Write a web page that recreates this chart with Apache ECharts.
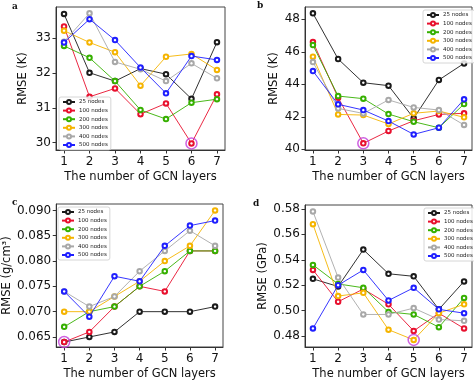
<!DOCTYPE html>
<html>
<head>
<meta charset="utf-8">
<script src="https://cdn.jsdelivr.net/npm/echarts@6/dist/echarts.min.js"></script>
<style>html,body{margin:0;padding:0;background:#fff}#c{width:474px;height:381px}</style>
</head>
<body>
<div id="c"></div>
<script>
// ---- data ----
const layers = [1, 2, 3, 4, 5, 6, 7];
const nodeNames = ['25 nodes', '100 nodes', '200 nodes', '300 nodes', '400 nodes', '500 nodes'];

// panel a: RMSE (K)
const a25  = [33.70, 32.01, 31.77, 32.13, 31.97, 31.26, 32.89];
const a100 = [33.34, 31.32, 31.56, 30.82, 31.13, 29.98, 31.39];
const a200 = [32.78, 32.44, 31.77, 30.94, 30.68, 31.15, 31.25];
const a300 = [33.22, 32.88, 32.60, 31.64, 32.47, 32.55, 32.09];
const a400 = [32.90, 33.72, 32.32, 32.11, 31.77, 32.28, 31.85];
const a500 = [32.88, 33.55, 32.95, 32.16, 31.42, 32.49, 32.38];
const aBest = [6, 29.98];
const ticksA = [30, 31, 32, 33];

// panel b: RMSE (K)
const b25  = [48.37, 45.56, 44.10, 43.92, 41.91, 44.27, 45.29];
const b100 = [46.61, 43.18, 40.37, 41.13, 41.76, 42.15, 42.22];
const b200 = [46.42, 43.28, 43.12, 42.17, 41.70, 41.33, 42.79];
const b300 = [45.70, 42.15, 42.11, 41.56, 42.22, 42.36, 41.97];
const b400 = [45.37, 42.52, 42.21, 43.04, 42.58, 42.42, 41.50];
const b500 = [44.82, 42.77, 42.42, 41.74, 40.92, 41.33, 43.08];
const bBest = [3, 40.37];
const ticksB = [40, 42, 44, 46, 48];

// panel c: RMSE (g/cm3)
const c25  = [0.064, 0.065, 0.066, 0.070, 0.070, 0.070, 0.071];
const c100 = [0.064, 0.066, 0.071, 0.075, 0.074, 0.082, 0.082];
const c200 = [0.067, 0.070, 0.071, 0.075, 0.078, 0.082, 0.082];
const c300 = [0.070, 0.070, 0.073, 0.076, 0.080, 0.083, 0.090];
const c400 = [0.074, 0.071, 0.073, 0.078, 0.082, 0.086, 0.083];
const c500 = [0.074, 0.069, 0.077, 0.076, 0.083, 0.087, 0.088];
const cBest = [1, 0.064];
const ticksC = [0.065, 0.070, 0.075, 0.080, 0.085, 0.090];

// panel d: RMSE (GPa)
const d25  = [0.525, 0.519, 0.548, 0.529, 0.527, 0.501, 0.523];
const d100 = [0.532, 0.507, 0.517, 0.505, 0.484, 0.498, 0.486];
const d200 = [0.536, 0.521, 0.518, 0.499, 0.497, 0.487, 0.510];
const d300 = [0.568, 0.5115, 0.514, 0.485, 0.477, 0.498, 0.505];
const d400 = [0.578, 0.526, 0.497, 0.497, 0.502, 0.493, 0.492];
const d500 = [0.486, 0.520, 0.532, 0.508, 0.518, 0.501, 0.498];
const dBest = [5, 0.477];
const ticksD = [0.48, 0.50, 0.52, 0.54, 0.56, 0.58];

// ---- styling / layout ----
const colors = ['#1a1a1a', '#e8102e', '#36b000', '#f5b400', '#a8a8a8', '#1f1fff'];
const hiColor = '#c23ad8';
const font = 'DejaVu Sans';

const panels = [
  {letter:'a', sets:[a25,a100,a200,a300,a400,a500], best:aBest, ticks:ticksA, yName:'RMSE (K)',
   min:29.79, max:33.90, dec:0, grid:{left:56, top:7, width:169, height:143}, nameGap:27,
   legend:{left:59, top:97}, letterPos:{left:12, top:2}},
  {letter:'b', sets:[b25,b100,b200,b300,b400,b500], best:bBest, ticks:ticksB, yName:'RMSE (K)',
   min:39.96, max:48.76, dec:0, grid:{left:305, top:7, width:167, height:143}, nameGap:25,
   legend:{left:423, top:10}, letterPos:{left:257, top:1}},
  {letter:'c', sets:[c25,c100,c200,c300,c400,c500], best:cBest, ticks:ticksC, yName:'RMSE (g/cm³)',
   min:0.06302, max:0.09127, dec:3, grid:{left:56, top:204, width:167, height:143}, nameGap:41,
   legend:{left:58, top:207}, letterPos:{left:12, top:198}},
  {letter:'d', sets:[d25,d100,d200,d300,d400,d500], best:dBest, ticks:ticksD, yName:'RMSE (GPa)',
   min:0.4714, max:0.5831, dec:2, grid:{left:305, top:205, width:167, height:143}, nameGap:35,
   legend:{left:424, top:208}, letterPos:{left:253, top:199}}
];

const grid = [], xAxis = [], yAxis = [], series = [], legend = [], title = [];
panels.forEach((p, k) => {
  grid.push(Object.assign({show:true, borderColor:'#444', borderWidth:1, backgroundColor:'#fff'}, p.grid));
  xAxis.push({
    type:'value', gridIndex:k, min:0.685, max:7.315,
    name:'The number of GCN layers', nameLocation:'middle', nameGap:21,
    nameTextStyle:{fontFamily:font, fontSize:11.5, color:'#111'},
    axisLine:{show:true, onZero:false, lineStyle:{color:'#333', width:1}},
    axisTick:{show:true, length:3.5, customValues:layers, lineStyle:{color:'#333'}},
    axisLabel:{customValues:layers, margin:6, fontFamily:font, fontSize:12, color:'#111'},
    splitLine:{show:false}
  });
  yAxis.push({
    type:'value', gridIndex:k, min:p.min, max:p.max,
    name:p.yName, nameLocation:'middle', nameGap:p.nameGap,
    nameTextStyle:{fontFamily:font, fontSize:11.5, color:'#111'},
    axisLine:{show:true, onZero:false, lineStyle:{color:'#333', width:1}},
    axisTick:{show:true, length:3.5, customValues:p.ticks, lineStyle:{color:'#333'}},
    axisLabel:{customValues:p.ticks, margin:5, fontFamily:font, fontSize:12, color:'#111',
      formatter:(v)=>Number(v).toFixed(p.dec)},
    splitLine:{show:false}
  });
  p.sets.forEach((vals, i) => {
    series.push({
      type:'line', name:nodeNames[i], xAxisIndex:k, yAxisIndex:k,
      data:layers.map((x, j) => [x, vals[j]]),
      symbol:'emptyCircle', symbolSize:4.5,
      lineStyle:{color:colors[i], width:0.9},
      itemStyle:{color:colors[i], borderWidth:1},
      emphasis:{disabled:true}, z:2+i
    });
  });
  series.push({
    type:'scatter', name:'best'+k, xAxisIndex:k, yAxisIndex:k,
    data:[p.best], symbol:'circle', symbolSize:11,
    itemStyle:{color:'transparent', borderColor:hiColor, borderWidth:1.5}, z:20
  });
  legend.push(Object.assign({
    orient:'vertical', data:nodeNames, itemWidth:12, itemHeight:5, itemGap:2.6,
    padding:[2,3], borderColor:'#ccc', borderWidth:0.8, borderRadius:2, backgroundColor:'rgba(255,255,255,0.85)',
    textStyle:{fontFamily:font, fontSize:5.5, color:'#222', padding:[0,0,0,-1]}, selectedMode:false
  }, p.legend));
  title.push(Object.assign({text:p.letter, textStyle:{fontFamily:'DejaVu Serif', fontWeight:'bold', fontSize:9, color:'#111'}, padding:0}, p.letterPos));
});

const chart = echarts.init(document.getElementById('c'), null, {renderer:'canvas'});
chart.setOption({animation:false, title, grid, xAxis, yAxis, series, legend});
</script>
</body>
</html>
